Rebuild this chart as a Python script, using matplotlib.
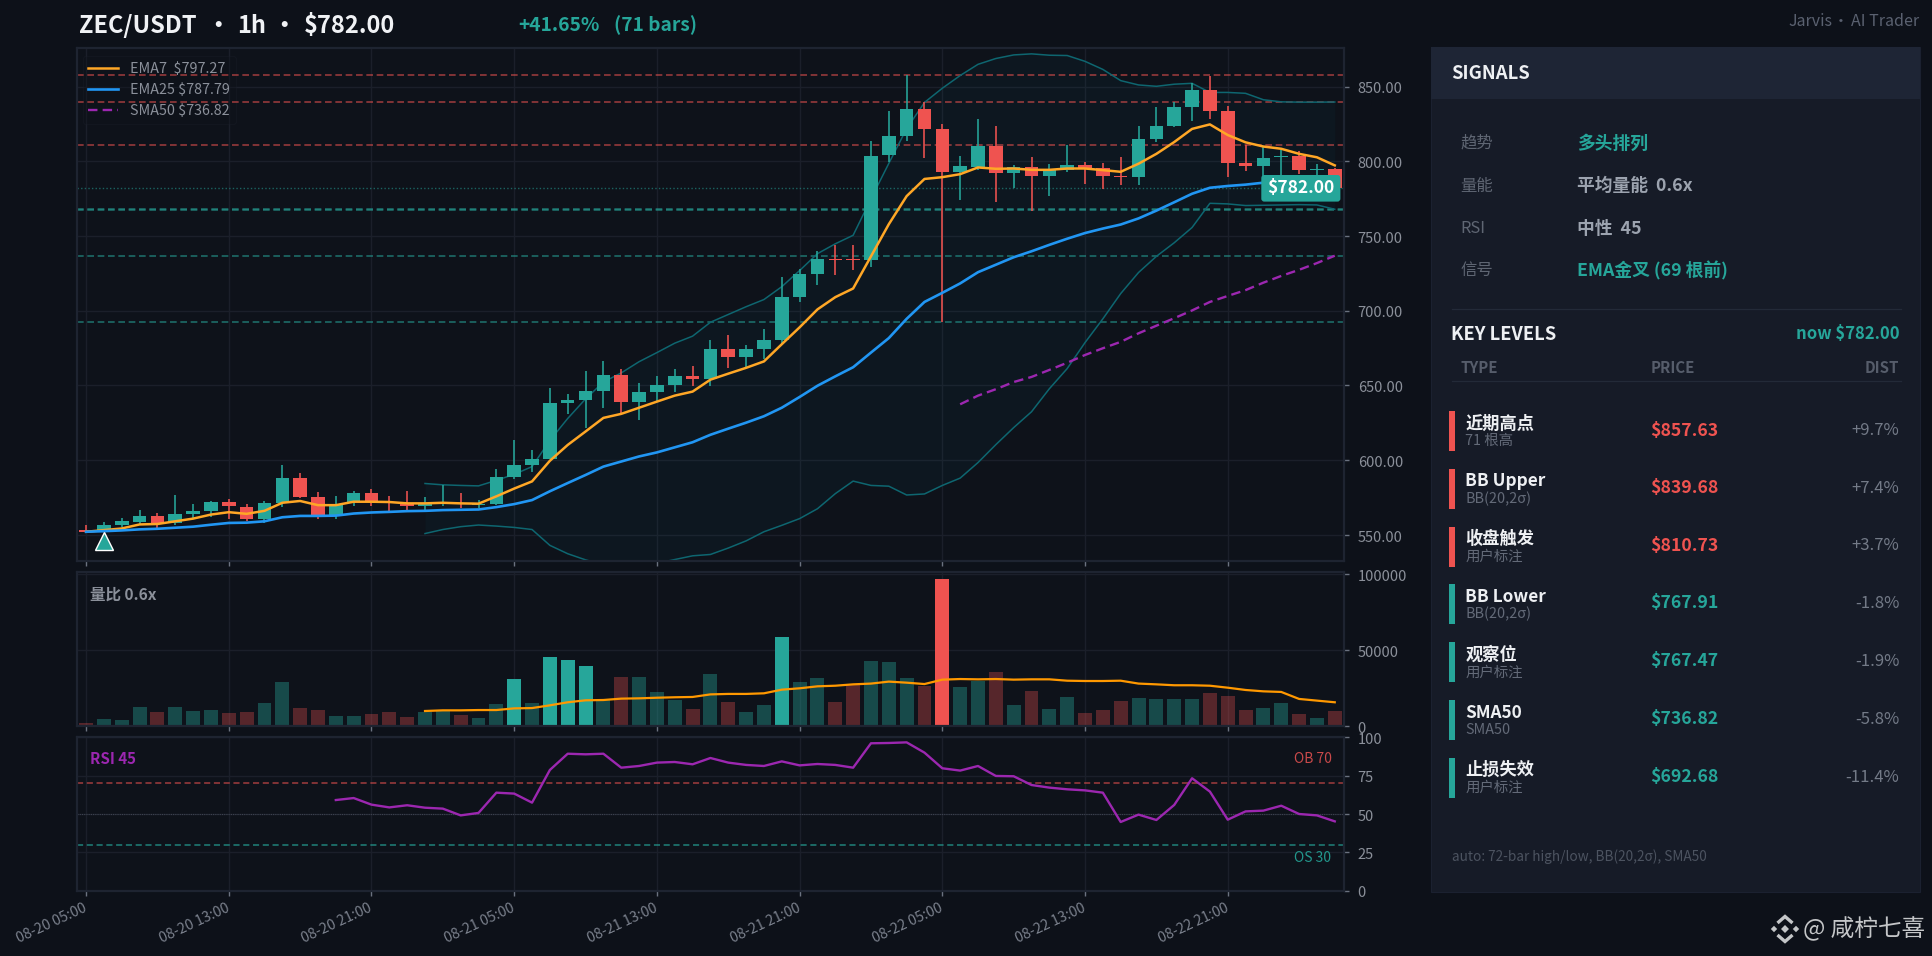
import matplotlib
matplotlib.use('Agg')
import matplotlib.pyplot as plt
from matplotlib.patches import Rectangle, Polygon, FancyBboxPatch
from matplotlib.transforms import ScaledTranslation
import numpy as np

FONT = ['Noto Sans CJK SC', 'DejaVu Sans']
plt.rcParams['font.family'] = FONT
plt.rcParams['axes.unicode_minus'] = False

# ---------------- data ----------------
opens = [553.0,553.2,556.4,558.6,562.7,558.2,564.1,566.1,572.0,569.0,560.7,571.3,588.0,575.4,562.7,572.0,578.1,572.0,571.3,569.3,
         571.3,571.3,570.2,570.9,588.7,596.9,600.7,638.5,640.3,646.4,657.0,638.9,645.7,650.2,656.4,654.3,674.5,669.0,674.5,680.3,
         709.3,724.7,734.6,734.4,733.9,804.3,817.0,835.1,821.7,792.8,795.9,810.2,792.3,796.1,790.3,794.1,797.3,795.2,790.3,789.6,
         814.9,823.7,836.4,847.7,833.7,798.9,796.8,802.7,803.4,794.3,794.8]
closes = [552.1,556.4,559.3,562.7,557.3,564.1,566.1,571.8,569.3,560.9,571.3,588.0,575.4,563.4,569.9,578.1,572.2,571.5,569.5,570.9,
          572.0,570.6,570.6,588.7,596.9,600.7,638.3,640.3,646.4,657.0,638.9,645.7,650.2,656.4,654.3,674.5,669.0,674.5,680.3,709.3,
          724.7,734.6,734.2,734.2,803.6,817.0,835.1,821.7,792.8,796.8,810.2,792.3,795.9,790.3,794.1,797.3,795.0,790.3,789.8,814.9,
          823.7,836.4,847.7,833.7,799.1,796.8,802.3,803.4,794.1,794.6,782.0]
highs = [556.4,558.4,561.1,566.8,564.5,576.7,570.6,572.7,574.0,570.6,572.7,596.6,591.2,578.5,575.8,579.4,580.8,576.0,579.4,575.4,
         583.7,578.1,573.1,593.9,613.4,606.6,648.2,644.1,659.5,666.3,661.1,651.6,656.4,661.1,663.1,680.3,683.7,676.9,687.8,722.6,
         727.8,739.8,744.1,744.1,813.3,833.7,857.63,839.4,825.3,803.6,828.0,823.5,797.5,802.9,798.2,811.1,799.8,798.9,802.9,823.5,
         836.4,840.0,852.2,856.8,836.9,811.1,809.3,807.5,806.6,798.2,795.7]
lows = [552.0,552.8,555.5,557.3,554.3,556.4,561.1,562.3,560.4,559.3,558.2,568.6,574.5,560.9,560.9,569.5,569.5,566.3,566.3,566.8,
        569.5,567.9,567.9,569.9,587.6,592.1,600.7,630.6,621.8,634.6,631.7,627.2,638.7,645.3,649.6,649.6,661.8,662.2,667.4,677.6,
        705.9,717.4,724.0,727.4,729.2,799.8,813.8,802.5,692.68,773.8,794.1,772.9,782.1,767.0,776.5,792.8,785.1,781.7,784.4,784.4,
        813.1,823.1,826.9,828.3,789.8,793.7,789.8,789.8,791.6,789.6,780.0]
volumes = [2000,4600,3950,12500,9200,12500,9900,10500,8550,9200,15100,28900,11800,10500,6600,6600,7900,9200,5900,9200,
           10500,7200,5300,14500,30900,15100,45400,43400,39500,17100,32200,32200,22400,17100,11200,34200,15800,9200,13800,58600,
           28900,31600,15800,27600,42800,42100,31600,26500,96700,25700,29600,35500,13800,23000,11200,19100,8550,10500,16400,18400,
           17800,17800,17800,21700,19700,10500,11800,15100,7900,5300,9900]
highlight_bars = [24, 26, 27, 28, 39, 48]
vol_ma = [9870,10300,10300,10500,10500,11600,11800,13600,15600,16900,17100,18000,18200,18600,18900,19100,20800,21100,21100,21500,
          23900,24800,26100,26500,27400,27900,29200,28500,27600,30500,30900,30700,30900,30500,30700,30700,29800,29600,29600,29800,
          27900,27400,26800,26800,26500,25200,23700,22800,22400,17800,16700,15600]
ema7 = [552.1,553.2,554.3,557.0,557.3,559.1,560.9,563.6,565.2,564.1,566.1,571.5,572.7,569.9,569.9,572.2,572.2,572.0,571.1,571.1,
        571.5,571.1,570.9,575.8,581.0,585.8,599.6,610.2,619.2,628.3,631.0,635.1,639.2,643.2,645.9,653.9,657.9,661.8,666.1,677.6,
        688.9,700.9,709.1,714.9,736.4,757.9,776.7,788.2,789.4,791.4,795.9,795.0,795.2,794.3,794.3,795.2,795.2,794.1,793.0,798.4,
        805.0,812.9,821.7,824.7,817.6,812.7,809.9,808.4,805.0,802.7,797.27]
ema25 = [552.1,552.5,553.0,553.7,554.1,554.8,555.5,556.8,558.0,558.2,559.1,561.8,562.7,562.7,562.9,564.3,565.0,565.4,565.9,566.1,
         566.6,566.8,567.0,568.6,570.6,573.3,579.2,584.7,590.1,595.7,599.1,602.5,605.2,608.6,612.0,617.0,621.1,625.1,629.4,635.1,
         642.3,649.8,656.1,662.2,672.0,681.7,694.6,705.9,712.0,718.3,725.8,730.8,735.8,739.8,744.1,748.2,752.0,755.0,757.7,761.8,
         767.0,772.6,778.3,782.3,783.5,784.4,785.7,786.4,787.1,787.3,787.79]
sma50 = [637.4,643.2,647.5,652.3,655.7,660.4,665.2,670.4,674.9,679.2,684.9,690.0,695.0,700.2,705.9,709.9,713.8,718.8,723.3,727.4,731.9,736.82]
bb_upper = [584.4,583.5,583.1,582.8,586.5,590.5,595.7,613.2,627.9,641.0,652.3,658.4,665.9,672.0,678.3,683.0,692.3,697.5,702.7,707.5,
            716.1,726.9,738.2,744.8,750.5,774.9,798.6,821.9,839.4,848.9,857.4,864.9,868.8,871.2,871.9,871.0,870.8,866.9,861.5,854.0,
            851.1,850.2,851.6,852.2,846.1,846.1,845.5,841.2,839.8,839.6,839.6,839.68]
bb_lower = [550.9,553.6,555.5,556.6,555.9,555.0,553.6,543.0,537.4,533.3,530.1,529.5,530.1,531.0,533.5,536.0,536.9,541.2,546.0,552.1,
            556.4,560.9,567.5,577.6,586.0,583.1,582.6,576.7,577.4,583.1,588.0,598.4,610.4,621.8,632.4,647.8,661.3,678.7,694.6,711.5,
            725.6,736.4,745.5,755.7,771.9,771.5,770.4,770.6,770.8,771.0,770.8,767.91]
rsi = [59.1,60.4,56.1,54.3,55.7,54.1,53.5,49.1,50.7,63.9,63.3,57.4,78.7,89.3,88.9,89.3,80.2,81.3,83.5,83.9,82.4,86.5,83.5,82.0,81.3,84.3,
       81.7,82.6,82.0,80.2,96.1,96.3,96.7,90.0,79.8,78.3,81.3,74.8,74.6,68.9,67.2,66.1,65.4,63.9,44.8,49.6,46.1,55.9,73.3,64.6,46.3,51.7,
       52.2,55.4,50.0,49.1,45.2]
resist_levels = [857.63, 839.68, 810.73]
support_levels = [767.91, 767.47, 736.82, 692.68]
last_price = 782.00
tick_labels = ['08-20 05:00','08-20 13:00','08-20 21:00','08-21 05:00','08-21 13:00','08-21 21:00','08-22 05:00','08-22 13:00','08-22 21:00']
signal_rows = [('趋势','多头排列','#26a69a'),('量能','平均量能  0.6x','#9ca3af'),('RSI','中性  45','#9ca3af'),('信号','EMA金叉 (69 根前)','#26a69a')]
level_names = ['近期高点','BB Upper','收盘触发','BB Lower','观察位','SMA50','止损失效']
level_subs = ['71 根高','BB(20,2σ)','用户标注','BB(20,2σ)','用户标注','SMA50','用户标注']
level_prices = ['$857.63','$839.68','$810.73','$767.91','$767.47','$736.82','$692.68']
level_dists = ['+9.7%','+7.4%','+3.7%','-1.8%','-1.9%','-5.8%','-11.4%']

# ---------------- style ----------------
W, H = 1933, 956
BG = '#0d1119'; AXBG = '#0e121a'; GRID = '#1b1f2a'; SPINE = '#1e2431'
UP = '#26a69a'; DOWN = '#ef5350'; LABEL = '#8b909a'
fig = plt.figure(figsize=(W/100, H/100), dpi=100, facecolor=BG)

def rect(l, t, r, b):
    return [l/W, 1-b/H, (r-l)/W, (b-t)/H]

ax = fig.add_axes(rect(76.8, 47.6, 1344.4, 560.6), facecolor=AXBG)
av = fig.add_axes(rect(76.8, 571.7, 1344.4, 726), facecolor=AXBG, sharex=ax)
ar = fig.add_axes(rect(76.8, 737.3, 1344.4, 890.7), facecolor=AXBG, sharex=ax)

xs = np.arange(len(closes))
tick_pos = xs[::8][:len(tick_labels)]
for a in (ax, av, ar):
    a.grid(True, color=GRID, lw=1)
    a.set_axisbelow(True)
    for s in a.spines.values():
        s.set_color(SPINE); s.set_linewidth(1.6)
    a.yaxis.tick_right()
    a.tick_params(axis='both', length=3.6, width=1, color='#6b7280', labelcolor=LABEL, labelsize=10.5, pad=6)
    a.tick_params(axis='x', labelbottom=False)
ax.set_xlim(-0.52, 70.54)
ax.set_xticks(tick_pos)

# price panel
ax.set_ylim(532.8, 876.1)
ax.set_yticks([550, 600, 650, 700, 750, 800, 850])
ax.set_yticklabels(['%.2f' % v for v in [550, 600, 650, 700, 750, 800, 850]])
for lv in resist_levels:
    ax.axhline(lv, color=DOWN, alpha=0.6, lw=1.2, dashes=(4, 2.2), zorder=1.5)
for lv in support_levels:
    ax.axhline(lv, color=UP, alpha=0.6, lw=1.2, dashes=(4, 2.2), zorder=1.5)
ax.axhline(last_price, color=UP, alpha=0.55, lw=1, dashes=(1, 1.6), zorder=1.5)

bbx = xs[-len(bb_upper):]
ax.fill_between(bbx, bb_lower, bb_upper, color='#00bcd4', alpha=0.035, lw=0, zorder=1)
ax.plot(bbx, bb_upper, color='#0e6670', lw=1.1, zorder=2)
ax.plot(bbx, bb_lower, color='#0e6670', lw=1.1, zorder=2)

for i in xs:
    c = UP if closes[i] >= opens[i] else DOWN
    ax.vlines(i, lows[i], highs[i], color=c, lw=1.15, zorder=3)
    lo, hi = min(opens[i], closes[i]), max(opens[i], closes[i])
    ax.bar(i, hi-lo, bottom=lo, width=0.76, color=c, lw=0, zorder=3.2)

ax.plot(xs, ema7, color='#ffa726', lw=1.8, zorder=4, label='EMA7  $797.27')
ax.plot(xs, ema25, color='#2196f3', lw=1.9, zorder=4, label='EMA25 $787.79')
ax.plot(xs[-len(sma50):], sma50, color='#9c27b0', lw=1.7, dashes=(4, 2.2), zorder=4, label='SMA50 $736.82')
ax.plot([1], [545.8], marker='^', ms=13, color=UP, mec='white', mew=1, zorder=5, ls='none')
leg = ax.legend(loc='upper left', bbox_to_anchor=(0.0045, 0.984), frameon=True, facecolor=AXBG, edgecolor=GRID,
                framealpha=0.35, fontsize=10.3, labelcolor=LABEL, handlelength=2.1, handletextpad=0.85,
                labelspacing=0.5, borderpad=0.4, borderaxespad=0)
leg.get_frame().set_linewidth(0.8)
leg.set_zorder(1.2)

# volume panel
for i in xs:
    up = closes[i] >= opens[i]
    bright = i in highlight_bars
    av.bar(i, volumes[i], width=0.78, color=UP if up else DOWN,
           alpha=1 if bright else (0.38 if up else 0.32), lw=0, zorder=2)
av.plot(xs[-len(vol_ma):], vol_ma, color='#ff9800', lw=1.6, zorder=3)
av.set_ylim(0, 101500)
av.set_yticks([0, 50000, 100000])
av.set_yticklabels(['0', '50000', '100000'])

# rsi panel
ar.set_ylim(0, 100)
ar.set_yticks([0, 25, 50, 75, 100])
ar.axhline(70, color=DOWN, alpha=0.65, lw=1.1, dashes=(4, 2.4), zorder=1.5)
ar.axhline(30, color=UP, alpha=0.75, lw=1.1, dashes=(4, 2.4), zorder=1.5)
ar.axhline(50, color='#5b6270', alpha=0.55, lw=0.8, dashes=(1, 1), zorder=1.5)
ar.plot(xs[-len(rsi):], rsi, color='#9c27b0', lw=1.7, zorder=3)
ar.set_xticks(tick_pos)
ar.set_xticklabels(tick_labels)
ar.tick_params(axis='x', labelbottom=True, labelsize=10.3, labelcolor='#7a808c', pad=4)
shift_x = ScaledTranslation(-3/100, 0, fig.dpi_scale_trans)
for t in ar.get_xticklabels():
    t.set_rotation(25); t.set_ha('right'); t.set_rotation_mode('anchor')
    t.set_transform(t.get_transform() + shift_x)
shift_y = ScaledTranslation(0, -1.2/100, fig.dpi_scale_trans)
for a in (ax, av, ar):
    for t in a.get_yticklabels():
        t.set_transform(t.get_transform() + shift_y)

# ---------------- overlay: text and side panel in pixel space ----------------
o = fig.add_axes([0, 0, 1, 1], facecolor='none', zorder=10)
o.set_xlim(0, W); o.set_ylim(H, 0); o.axis('off')

def T(x, y, s, color='white', size=11, weight='normal', ha='left'):
    o.text(x, y, s, color=color, fontsize=size, fontweight=weight, ha=ha, va='center')

# last-price tag
o.add_patch(FancyBboxPatch((1263.3, 177), 75.1, 22.6, boxstyle='round,pad=2,rounding_size=3', fc=UP, ec='none'))
T(1300.8, 187.7, '$782.00', 'white', 12.5, 'bold', ha='center')

for x, s, ha in [(79, 'ZEC/USDT', 'left'), (218, '·', 'center'), (237.5, '1h', 'left'), (284, '·', 'center'), (304, '$782.00', 'left')]:
    T(x, 25.5, s, '#f0f2f5', 17, 'bold', ha=ha)
T(518, 25.5, '+41.65%', UP, 13.8, 'bold')
T(614, 25.5, '(71 bars)', UP, 13.8, 'bold')
for x, s, ha in [(1919.5, 'AI Trader', 'right'), (1840.7, '·', 'center'), (1832, 'Jarvis', 'right')]:
    T(x, 21, s, '#5a6170', 11.5, ha=ha)
T(89.7, 594.3, '量比 0.6x', LABEL, 11.2, 'bold')
T(89.7, 759.3, 'RSI 45', '#9c27b0', 10.9, 'bold')
T(1331.5, 759.3, 'OB 70', '#c9494a', 10, ha='right')
T(1331.5, 857.7, 'OS 30', '#22978c', 10, ha='right')

PANEL = '#161b27'; HEAD = '#1e2535'
o.add_patch(Rectangle((1431.3, 47), 488.4, 844.7, fc=PANEL, ec='#1b2130', lw=0.8))
o.add_patch(Rectangle((1431.3, 47), 488.4, 52, fc=HEAD, ec='none'))
T(1450.7, 73, 'SIGNALS', '#eef0f3', 13.3, 'bold')
for (lab, val, col), y in zip(signal_rows, [143.4, 186, 228.5, 270.5]):
    T(1460.3, y, lab, '#5f6673', 11.8)
    T(1577.3, y, val, col, 12.8, 'bold')
o.plot([1451.7, 1901], [309.3, 309.3], color='#232a38', lw=0.9)
T(1450.7, 334, 'KEY LEVELS', '#eef0f3', 13.2, 'bold')
T(1899.3, 334, 'now $782.00', UP, 12, 'bold', ha='right')
T(1460.3, 368.3, 'TYPE', '#565d6b', 10.8, 'bold')
T(1650.3, 368.3, 'PRICE', '#565d6b', 10.8, 'bold')
T(1899.3, 368.3, 'DIST', '#565d6b', 10.8, 'bold', ha='right')
o.plot([1451.7, 1901], [381.3, 381.3], color='#232a38', lw=0.9)
centers = [431, 488.5, 546.5, 604, 662, 720, 777.5]
for k, yc in enumerate(centers):
    col = DOWN if k < 3 else UP
    o.add_patch(Rectangle((1449, yc-20), 6, 40, fc=col, ec='none'))
    T(1465.5, yc-7.5, level_names[k], '#eef0f3', 12.4, 'bold')
    T(1465.5, yc+10.3, level_subs[k], '#636a78', 10.4)
    T(1650.3, yc-0.5, level_prices[k], col, 12.7, 'bold')
    T(1899.3, yc-0.5, level_dists[k], '#737a87', 12, ha='right')
T(1452.3, 856.7, 'auto: 72-bar high/low, BB(20,2σ), SMA50', '#4c5360', 9.8)

# watermark
WM = '#c4c6c8'
cx, cy = 1785, 929
def diamond(dx, dy, r):
    o.add_patch(Polygon([(cx+dx-r, cy+dy), (cx+dx, cy+dy-r), (cx+dx+r, cy+dy), (cx+dx, cy+dy+r)], fc=WM, ec='none'))
diamond(0, 0, 4); diamond(-11, 0, 3.2); diamond(11, 0, 3.2)
o.plot([cx-7.5, cx, cx+7.5], [cy-6, cy-12.5, cy-6], color=WM, lw=2.4, solid_joinstyle='miter', solid_capstyle='butt')
o.plot([cx-7.5, cx, cx+7.5], [cy+6, cy+12.5, cy+6], color=WM, lw=2.4, solid_joinstyle='miter', solid_capstyle='butt')
T(1803, 928.5, '@ 咸柠七喜', WM, 17)

fig.savefig('out.png', dpi=100, facecolor=BG)
